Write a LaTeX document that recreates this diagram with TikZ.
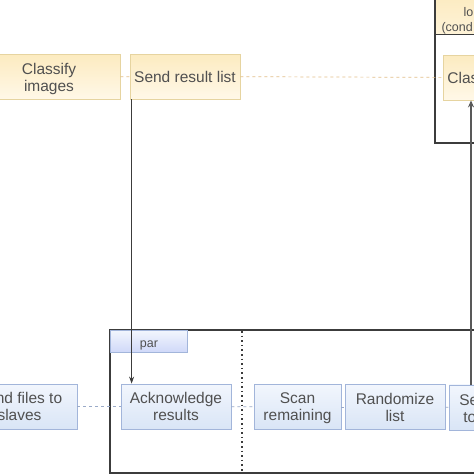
\documentclass[tikz,border=0pt]{standalone}
\usepackage{fontspec}
\setmainfont{Liberation Sans}
\usetikzlibrary{arrows.meta}
\definecolor{txt}{HTML}{505050}
\definecolor{ybord}{HTML}{E6D4A0}
\definecolor{ytop}{HTML}{FCEBC0}
\definecolor{ybot}{HTML}{FFF8E8}
\definecolor{bbord}{HTML}{A2B5DA}
\definecolor{btop}{HTML}{F2F6FD}
\definecolor{bbot}{HTML}{D9E5F6}
\definecolor{frame}{HTML}{3C3C3C}
\definecolor{ydash}{HTML}{E3BF8A}
\definecolor{bdash}{HTML}{9AAAC8}
\begin{document}
\begin{tikzpicture}[x=1pt,y=-1pt,
  font=\fontsize{15.5}{17}\selectfont,
  ybox/.style={draw=ybord, line width=0.8pt, top color=ytop, bottom color=ybot,
    text=txt, align=center, minimum height=45pt, inner sep=2pt, text depth=0pt},
  bbox/.style={draw=bbord, line width=0.8pt, top color=btop, bottom color=bbot,
    text=txt, align=center, minimum height=45pt, inner sep=2pt, text depth=0pt},
  twoline/.style={text depth=-3.5pt},
  smallfont/.style={font=\fontsize{12.5}{14.5}\selectfont},
  yconn/.style={draw=ydash, line width=0.7pt, dash pattern=on 3pt off 3pt},
  bconn/.style={draw=bdash, line width=0.7pt, dash pattern=on 3pt off 3pt},
  framebox/.style={draw=frame, line width=1.3pt},
  arr/.style={draw=frame, line width=1pt, -{Stealth[length=7pt,width=5pt]}},
  thickarr/.style={draw=frame!85, line width=2.4pt, -{Stealth[length=7pt,width=6pt]}},
  sep/.style={draw=frame, line width=1.4pt, dash pattern=on 1.6pt off 3pt}
]
\useasboundingbox (0,0) rectangle (474,474);
\clip (0,0) rectangle (474,474);
\fill[white] (0,0) rectangle (474,474);

% loop frame
\draw[framebox] (435,-10) -- (435,143) -- (490,143);
\node[draw=frame, line width=1pt, top color=ytop, bottom color=ybot!60!ytop, anchor=north west,
  smallfont, text width=48pt, align=left, inner xsep=6pt, inner ysep=0pt,
  text height=22pt, text depth=18pt, text=txt] (loophead) at (435,-6)
  {\hspace*{22pt}lo\\(cond};

% par frame
\draw[framebox] (110,330) rectangle (490,473);
\node[draw=bbord, line width=0.8pt, top color=btop, bottom color=bbot!90!blue!80!white,
  anchor=north west, smallfont, minimum width=77pt, inner xsep=0pt, inner ysep=0pt,
  text height=17pt, text depth=5pt, text=txt] (partab) at (110,330) {par};
\draw[sep] (242,331) -- (242,473);

% top row
\node[ybox, twoline, minimum width=142pt] (classify) at (49,77) {Classify\\images};
\node[ybox, minimum width=110pt] (send) at (185,76.5) {Send result list};
\node[ybox, anchor=west, minimum width=60pt, text width=52pt, align=left,
  inner xsep=3pt, text depth=-3pt] (clas) at (443,77.5) {Clas};

% bottom row
\node[bbox, twoline, minimum width=115pt] (sendfiles) at (19.5,406.5) {Send files to\\slaves};
\node[bbox, twoline, minimum width=110pt] (ack) at (176,406.5) {Acknowledge\\results};
\node[bbox, twoline, minimum width=87pt] (scan) at (297.5,407) {Scan\\remaining};
\node[bbox, twoline, minimum width=100pt] (rand) at (395,407) {Randomize\\list};
\node[bbox, anchor=north west, minimum height=0pt, text width=48pt, align=left,
  inner xsep=8pt, inner ysep=0pt, text height=21pt, text depth=24pt]
  (se) at (449,384.5) {\hspace*{2pt}Se\\\hspace*{6pt}to};

% dashed links
\draw[yconn] (classify) -- (send);
\draw[yconn] (send) -- (clas);
\draw[bconn] (sendfiles) -- (ack);
\draw[bconn] (ack) -- (scan);
\draw[bconn] (scan) -- (rand);
\draw[bconn] (rand) -- (se);

% arrows
\draw[arr] ([xshift=2pt]send.south west) -- ([xshift=11pt]ack.north west);
\draw[thickarr] ([xshift=22pt]se.north west) -- ([xshift=28pt]clas.south west);
\end{tikzpicture}
\end{document}
